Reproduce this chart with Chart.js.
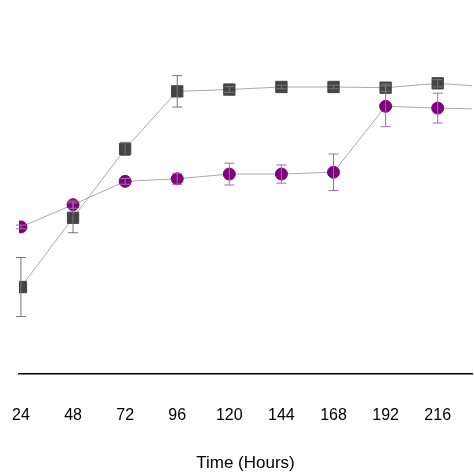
<!DOCTYPE html>
<html><head><script src="https://cdn.jsdelivr.net/npm/chart.js"></script>
<style>html,body{margin:0;padding:0;background:#fff;overflow:hidden;width:474px;height:474px}#w{width:495px;height:474px;margin-left:-14px}</style></head>
<body><div id="w"><canvas id="c"></canvas></div>
<script>
const hours=[24,48,72,96,120,144,168,192,216,240];
const tickLabels=[24,48,72,96,120,144,168,192,216,240];
const greyVals=[23.7,42.7,61.6,77.4,77.9,78.6,78.6,78.4,79.6,78.6];
const greyErr=[8.1,4.1,1.8,4.3,0.8,0.5,0.5,1.0,1.0,1.0];
const purpleVals=[40.2,46.3,52.7,53.4,54.7,54.7,55.2,73.3,72.8,72.5];
const purpleErr=[0.5,1.0,0.8,1.5,3.0,2.5,5.0,5.6,4.1,2.0];
const errPlugin={id:'err',afterDatasetsDraw(ch){const ctx=ch.ctx,x=ch.scales.x,y=ch.scales.y;
 [[greyVals,greyErr,'#777'],[purpleVals,purpleErr,'#a070a0']].forEach(([v,e,c])=>{
  ctx.save();ctx.strokeStyle=c;ctx.lineWidth=1;
  v.forEach((val,i)=>{const px=x.getPixelForValue(hours[i]);const t=y.getPixelForValue(val+e[i]),b=y.getPixelForValue(val-e[i]);
   ctx.beginPath();ctx.moveTo(px,t);ctx.lineTo(px,b);ctx.moveTo(px-5,t);ctx.lineTo(px+5,t);ctx.moveTo(px-5,b);ctx.lineTo(px+5,b);ctx.stroke();});
  ctx.restore();});}};
new Chart(document.getElementById('c'),{type:'line',
 data:{datasets:[
  {data:hours.map((h,i)=>({x:h,y:greyVals[i]})),borderColor:'#aaa',borderWidth:1,pointStyle:'rect',pointRadius:8,pointBackgroundColor:'#444',pointBorderColor:'#444'},
  {data:hours.map((h,i)=>({x:h,y:purpleVals[i]})),borderColor:'#aaa',borderWidth:1,pointStyle:'circle',pointRadius:6,pointBackgroundColor:'#800080',pointBorderColor:'#800080'}]},
 options:{animation:false,responsive:true,maintainAspectRatio:false,layout:{padding:{left:0,right:0,top:0,bottom:0}},
  plugins:{legend:{display:false},tooltip:{enabled:false}},
  scales:{
   x:{type:'linear',min:23.1,max:231.8,afterBuildTicks:s=>{s.ticks=tickLabels.filter(t=>t<=s.max).map(v=>({value:v}));},
    grid:{display:false,drawTicks:true,tickLength:7,tickColor:'#000'},border:{display:true,color:'#000',width:1.5},
    ticks:{color:'#000',font:{family:'Liberation Sans, Arial',size:16},padding:26,autoSkip:false,maxRotation:0},
    title:{display:true,text:'Time (Hours)',color:'#000',font:{family:'Liberation Sans, Arial',size:17},padding:{top:2,bottom:0}}},
   y:{display:false,min:0,max:100}}},
 plugins:[errPlugin]});
</script></body></html>
